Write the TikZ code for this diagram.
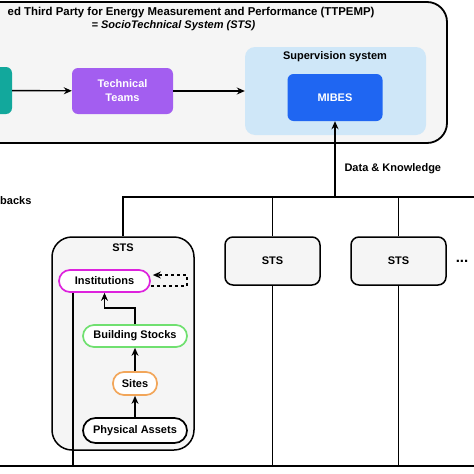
\documentclass[tikz,border=0pt]{standalone}
\usepackage{fontspec}
\setmainfont{Liberation Sans}
\usetikzlibrary{arrows.meta, positioning, calc}

\definecolor{panelgray}{HTML}{F5F5F5}
\definecolor{tealbox}{HTML}{12A89C}
\definecolor{purplebox}{HTML}{A35EF0}
\definecolor{supblue}{HTML}{CFE7F8}
\definecolor{mibesblue}{HTML}{1F66F2}
\definecolor{instmagenta}{HTML}{DD22DD}
\definecolor{stockgreen}{HTML}{70E070}
\definecolor{siteorange}{HTML}{F2A65A}

\begin{document}
\begin{tikzpicture}[>={Stealth[length=8pt, width=7pt]}, x=1pt, y=-1pt,
  every node/.style={font=\fontsize{11}{14}\selectfont\bfseries},
  panel/.style={draw, line width=1.5pt, fill=panelgray, rounded corners=8pt, inner sep=0pt},
  tile/.style={rounded corners=6pt, text=white, align=center, inner sep=0pt},
  pill/.style={draw, line width=1.7pt, fill=white, rounded corners=11pt, inner sep=0pt, minimum height=22pt},
  link/.style={line width=1.4pt}]
  \clip (0,0) rectangle (474,474);

  % Third party
  \node[panel, line width=1.8pt, rounded corners=20pt, minimum width=487pt, minimum height=141pt] (ttpemp) at (203.5,72.5) {};
  \node[anchor=east, font=\fontsize{11.4}{14}\selectfont\bfseries] (title) at (378,13) {ed Third Party for Energy Measurement and Performance (TTPEMP)};
  \node[font=\fontsize{11}{14}\selectfont\bfseries\itshape] (subtitle) at (173.5,26) {= SocioTechnical System (STS)};

  \node[tile, fill=tealbox, minimum width=52pt, minimum height=47pt] (actors) at (-14,90.5) {};
  \node[tile, fill=purplebox, minimum width=101pt, minimum height=46pt] (teams) at (122.5,91) {Technical\\Teams};

  % Supervision system
  \node[fill=supblue, rounded corners=10pt, minimum width=181pt, minimum height=88pt] (sup) at (335.5,91) {};
  \node (suplabel) at (335,57) {Supervision system};
  \node[tile, fill=mibesblue, minimum width=95pt, minimum height=47pt] (mibes) at (335,97.5) {MIBES};

  \draw[link, ->] (actors) -- (teams);
  \draw[link, ->] (teams) -- (sup);

  % Data bus
  \coordinate (bus) at (335,197);
  \coordinate (busR) at (474,197);
  \draw[link, ->] (bus) -- (mibes.south);
  \node[anchor=west] (data) at (341,169) {Data \& Knowledge};

  % STS
  \node[panel, rounded corners=20pt, minimum width=142pt, minimum height=213pt] (sts1) at (123,343.5) {};
  \node (sts1label) at (123,248) {STS};
  \node[panel, minimum width=95pt, minimum height=48pt] (sts2) at (272.5,261) {STS};
  \node[panel, minimum width=95pt, minimum height=48pt] (sts3) at (398.5,261) {STS};
  \node[font=\fontsize{15}{15}\selectfont\bfseries] (more) at (462,261) {...};

  \draw[link] (sts1.north) |- (busR);
  \draw[link] (sts2.north) -- (sts2.north |- bus);
  \draw[link] (sts3.north) -- (sts3.north |- bus);

  % Levels
  \node[pill, draw=instmagenta, minimum width=91pt] (inst) at (104.5,281) {Institutions};
  \node[pill, draw=stockgreen, minimum width=104pt] (stocks) at (135,336) {Building Stocks};
  \node[pill, draw=siteorange, minimum width=44pt, minimum height=23pt] (sites) at (135,383.5) {Sites};
  \node[pill, draw=black, rounded corners=12.5pt, minimum width=104pt, minimum height=25pt] (assets) at (135,430.5) {Physical Assets};

  \draw[link, ->] (assets) -- (sites);
  \draw[link, ->] (sites) -- (stocks);
  \draw[link, ->] (stocks.north) -- ++(0,-16) -| (inst.south);
  \draw[link, ->, dashed] ([yshift=-5pt]inst.east) -- ++(36,0) |- ([xshift=2pt, yshift=6pt]inst.east);

  % Feedbacks
  \coordinate (fbL) at (0,466);
  \coordinate (fbR) at (474,466);
  \draw[link] (fbL) -- (fbR);
  \draw[link] ([xshift=-31.5pt]inst.south) -- ([xshift=-31.5pt]inst.south |- fbL);
  \draw[link] (sts2.south) -- (sts2.south |- fbL);
  \draw[link] (sts3.south) -- (sts3.south |- fbL);
  \node[anchor=west, inner sep=0pt] (feedbacks) at (0,201) {backs};
\end{tikzpicture}
\end{document}
